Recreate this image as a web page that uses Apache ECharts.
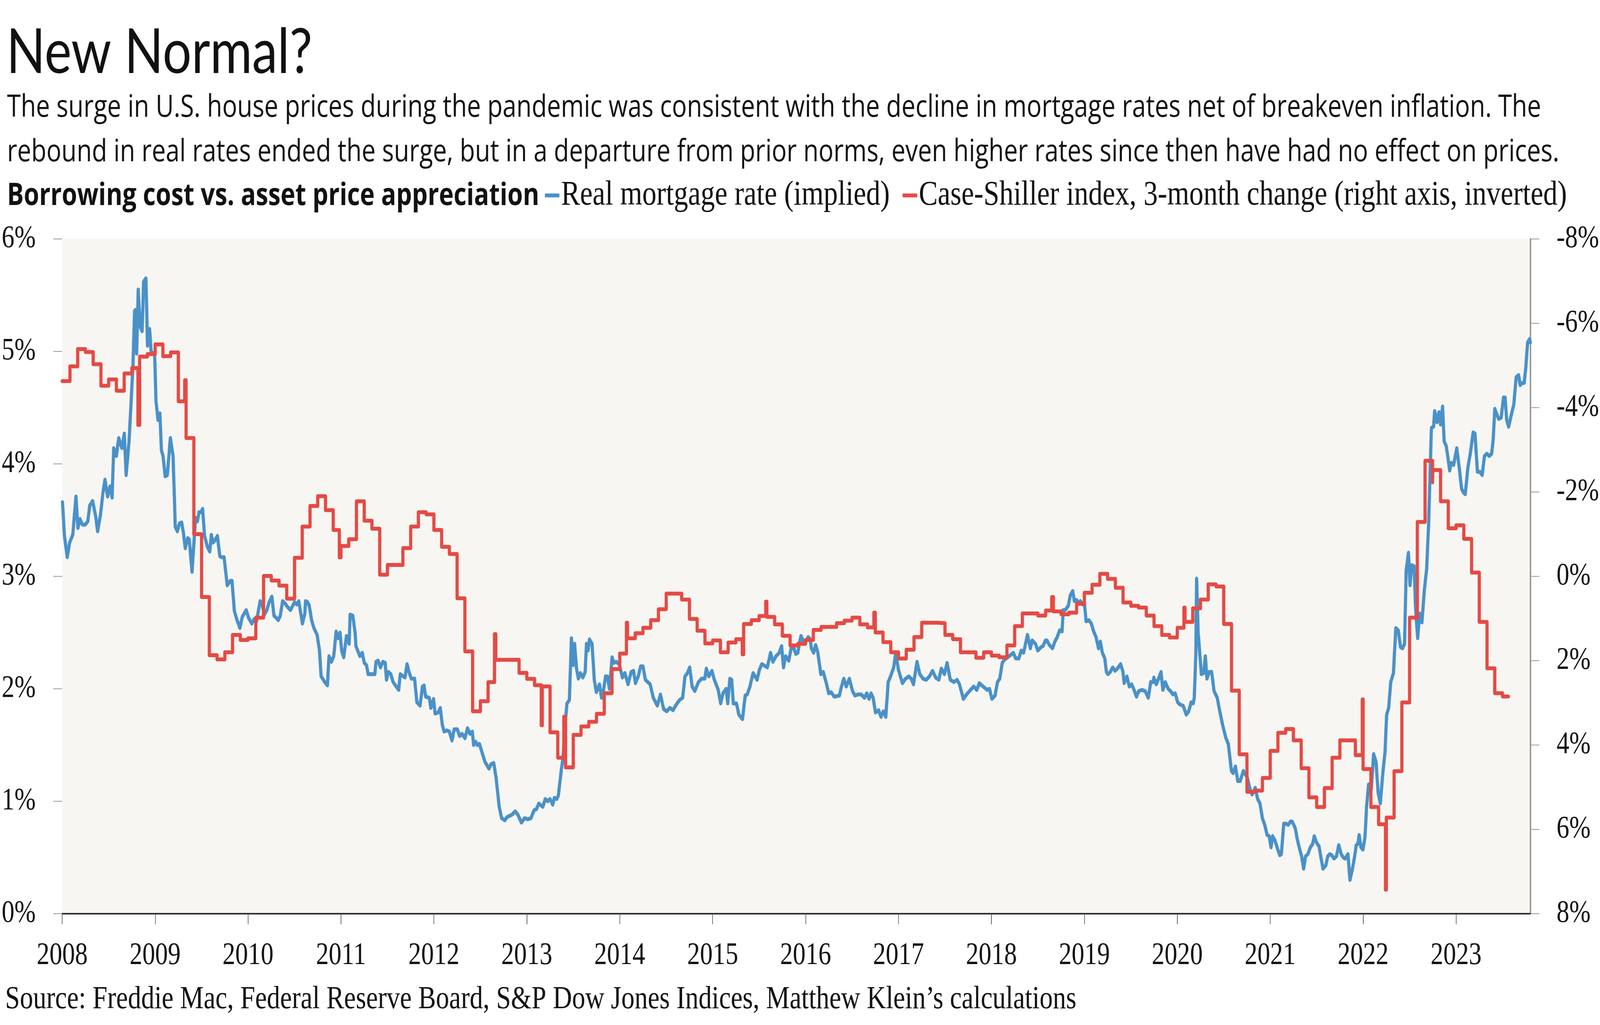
<!DOCTYPE html>
<html>
<head>
<meta charset="utf-8">
<script src="https://cdn.jsdelivr.net/npm/echarts@6/dist/echarts.min.js"></script>
<style>
html,body{margin:0;padding:0;background:#fff;overflow:hidden;}
#wrap{width:5016px;height:2625px;transform-origin:0 0;}
#chart{width:5016px;height:2625px;}
</style>
</head>
<body>
<div id="wrap"><div id="chart"></div></div>
<script>
// ---- Text ----
const titleText = 'New Normal?';
const subtitleLines = [
  'The surge in U.S. house prices during the pandemic was consistent with the decline in mortgage rates net of breakeven inflation. The',
  'rebound in real rates ended the surge, but in a departure from prior norms, even higher rates since then have had no effect on prices.'
];
const legendTitle = 'Borrowing cost vs. asset price appreciation';
const seriesNames = ['Real mortgage rate (implied)', 'Case-Shiller index, 3-month change (right axis, inverted)'];
const sourceText = 'Source: Freddie Mac, Federal Reserve Board, S&P Dow Jones Indices, Matthew Klein\u2019s calculations';

// ---- Axes ----
const xStartYear = 2008;
const xEndYear = 2023.8;
const leftTicks = [0, 1, 2, 3, 4, 5, 6];      // %
const rightTicks = [-8, -6, -4, -2, 0, 2, 4, 6, 8]; // %, inverted

// ---- Real mortgage rate (implied), weekly-ish readings [decimal year, %] ----
const realRate = [
[2008.003,3.66],[2008.024,3.36],[2008.054,3.17],[2008.080,3.30],[2008.114,3.37],[2008.148,3.71],[2008.169,3.43],[2008.191,3.51],
[2008.216,3.46],[2008.250,3.46],[2008.276,3.49],[2008.296,3.63],[2008.327,3.67],[2008.361,3.53],[2008.381,3.40],[2008.412,3.55],
[2008.438,3.74],[2008.460,3.86],[2008.489,3.71],[2008.514,3.80],[2008.537,3.70],[2008.554,4.14],[2008.583,4.07],[2008.608,4.23],
[2008.642,4.14],[2008.668,4.27],[2008.688,3.90],[2008.719,4.20],[2008.739,4.51],[2008.762,4.89],[2008.779,5.36],[2008.790,5.37],
[2008.801,4.98],[2008.818,5.55],[2008.838,5.22],[2008.860,5.18],[2008.876,5.62],[2008.901,5.65],[2008.918,5.05],[2008.929,5.08],
[2008.940,5.20],[2008.957,5.00],[2008.995,4.97],[2009.009,4.56],[2009.031,4.39],[2009.051,4.45],[2009.068,4.12],[2009.085,4.07],
[2009.108,3.89],[2009.131,3.90],[2009.164,4.23],[2009.193,4.07],[2009.217,3.44],[2009.239,3.40],[2009.261,3.47],[2009.285,3.48],
[2009.304,3.39],[2009.324,3.25],[2009.350,3.34],[2009.367,3.33],[2009.397,3.04],[2009.435,3.52],[2009.455,3.49],[2009.472,3.57],
[2009.494,3.57],[2009.511,3.60],[2009.532,3.36],[2009.563,3.26],[2009.588,3.22],[2009.605,3.37],[2009.622,3.30],[2009.643,3.32],
[2009.670,3.36],[2009.696,3.18],[2009.716,3.17],[2009.742,3.17],[2009.776,2.92],[2009.810,2.96],[2009.827,2.96],[2009.853,2.69],
[2009.878,2.62],[2009.912,2.54],[2009.938,2.64],[2009.980,2.70],[2010.006,2.63],[2010.040,2.58],[2010.065,2.62],[2010.091,2.60],
[2010.130,2.78],[2010.151,2.75],[2010.176,2.66],[2010.202,2.70],[2010.227,2.77],[2010.256,2.82],[2010.279,2.65],[2010.304,2.63],
[2010.325,2.61],[2010.347,2.65],[2010.372,2.78],[2010.398,2.76],[2010.423,2.73],[2010.457,2.70],[2010.500,2.77],[2010.526,2.75],
[2010.546,2.78],[2010.585,2.58],[2010.611,2.67],[2010.619,2.78],
[2010.641,2.77],[2010.658,2.74],[2010.684,2.61],[2010.709,2.54],[2010.743,2.48],[2010.769,2.34],[2010.786,2.11],[2010.803,2.09],
[2010.825,2.06],[2010.854,2.03],[2010.871,2.29],[2010.897,2.24],[2010.922,2.29],[2010.948,2.51],[2010.968,2.45],[2010.990,2.50],
[2011.007,2.34],[2011.030,2.28],[2011.059,2.47],[2011.088,2.40],[2011.098,2.66],[2011.127,2.65],[2011.152,2.50],[2011.161,2.38],
[2011.203,2.29],[2011.229,2.32],[2011.251,2.23],[2011.275,2.21],[2011.292,2.13],[2011.340,2.13],[2011.365,2.13],[2011.377,2.24],
[2011.400,2.25],[2011.425,2.19],[2011.451,2.24],[2011.476,2.23],[2011.490,2.08],[2011.510,2.15],[2011.536,2.13],[2011.561,2.06],
[2011.595,2.02],[2011.621,1.99],[2011.638,2.13],[2011.689,2.10],[2011.711,2.22],[2011.732,2.15],[2011.757,2.09],[2011.792,2.09],
[2011.817,1.88],[2011.851,1.85],[2011.877,2.02],[2011.894,2.03],[2011.911,1.93],[2011.950,1.92],[2011.967,1.83],[2011.996,1.91],
[2012.013,1.78],[2012.047,1.79],[2012.069,1.83],[2012.090,1.68],[2012.110,1.62],[2012.141,1.63],[2012.166,1.62],[2012.195,1.54],
[2012.218,1.64],[2012.252,1.64],[2012.277,1.58],[2012.303,1.60],[2012.334,1.56],[2012.362,1.65],[2012.388,1.60],[2012.414,1.62],
[2012.427,1.50],[2012.448,1.53],[2012.468,1.50],[2012.490,1.51],[2012.516,1.44],[2012.550,1.35],[2012.593,1.29],[2012.615,1.33],
[2012.644,1.34],[2012.669,1.21],[2012.703,0.95],[2012.729,0.85],[2012.763,0.83],[2012.789,0.86],[2012.814,0.87],[2012.840,0.88],
[2012.874,0.91],[2012.904,0.88],[2012.942,0.81],[2012.976,0.85],[2013.010,0.84],[2013.044,0.85],[2013.078,0.92],[2013.104,0.93],
[2013.129,0.98],[2013.172,0.95],[2013.198,1.02],[2013.223,1.00],[2013.249,1.02],
[2013.279,0.97],[2013.296,1.03],[2013.322,1.02],[2013.339,1.05],[2013.356,1.17],[2013.373,1.29],[2013.390,1.39],[2013.407,1.64],
[2013.432,1.87],[2013.458,1.90],[2013.480,2.45],[2013.497,2.21],[2013.514,2.40],[2013.535,2.18],[2013.555,2.09],[2013.577,2.14],
[2013.603,2.10],[2013.628,2.15],[2013.642,2.40],[2013.659,2.34],[2013.674,2.44],[2013.702,2.40],[2013.726,2.08],[2013.748,1.97],
[2013.782,2.04],[2013.804,1.92],[2013.824,1.98],[2013.847,2.11],[2013.867,2.11],[2013.889,2.00],[2013.918,2.28],[2013.935,2.23],
[2013.961,2.24],[2013.995,2.22],[2014.029,2.10],[2014.055,2.14],[2014.089,2.04],[2014.123,2.15],[2014.148,2.16],[2014.169,2.05],
[2014.199,2.11],[2014.225,2.20],[2014.250,2.20],[2014.276,2.08],[2014.302,2.06],[2014.327,2.04],[2014.361,1.92],[2014.404,1.85],
[2014.438,1.95],[2014.472,1.82],[2014.506,1.80],[2014.540,1.83],[2014.574,1.81],[2014.608,1.86],[2014.643,1.90],[2014.677,1.92],
[2014.702,2.11],[2014.728,2.14],[2014.753,2.19],[2014.779,2.02],[2014.808,1.98],[2014.847,2.06],[2014.881,2.09],[2014.915,2.09],
[2014.932,2.18],[2014.958,2.11],[2014.992,2.16],[2015.018,2.08],[2015.060,1.99],[2015.086,1.87],[2015.111,1.96],[2015.145,2.00],
[2015.162,1.87],[2015.185,2.09],[2015.205,2.08],[2015.222,1.87],[2015.256,1.87],[2015.282,1.77],[2015.321,1.73],[2015.350,1.94],
[2015.372,1.95],[2015.401,2.02],[2015.435,2.14],[2015.478,2.08],[2015.503,2.17],[2015.529,2.22],[2015.588,2.19],[2015.623,2.32],
[2015.648,2.24],[2015.682,2.29],[2015.716,2.32],[2015.742,2.38],[2015.762,2.19],[2015.785,2.29],[2015.819,2.25],[2015.849,2.38],
[2015.870,2.37],[2015.895,2.31],
[2015.917,2.32],[2015.934,2.41],[2015.951,2.47],[2015.977,2.42],[2016.002,2.42],[2016.028,2.46],[2016.050,2.44],[2016.062,2.36],
[2016.087,2.32],[2016.108,2.39],[2016.130,2.33],[2016.164,2.13],[2016.190,2.15],[2016.220,2.06],[2016.249,1.96],[2016.275,1.97],
[2016.309,1.93],[2016.364,1.94],[2016.386,2.02],[2016.411,2.09],[2016.437,2.02],[2016.471,2.09],[2016.505,1.98],[2016.531,1.94],
[2016.565,1.95],[2016.599,1.95],[2016.633,1.92],[2016.658,1.96],[2016.684,1.91],[2016.704,1.96],[2016.727,1.92],[2016.752,1.79],
[2016.786,1.81],[2016.812,1.75],[2016.837,1.80],[2016.863,1.75],[2016.889,2.06],[2016.914,2.11],[2016.948,2.19],[2016.970,2.32],
[2016.999,2.17],[2017.042,2.05],[2017.076,2.09],[2017.110,2.11],[2017.136,2.09],[2017.161,2.04],[2017.199,2.24],[2017.229,2.13],
[2017.264,2.09],[2017.298,2.08],[2017.332,2.11],[2017.366,2.16],[2017.400,2.10],[2017.434,2.08],[2017.460,2.18],[2017.494,2.13],
[2017.523,2.23],[2017.557,2.08],[2017.596,2.06],[2017.630,2.08],[2017.656,2.04],[2017.698,1.91],[2017.732,1.95],[2017.775,1.99],
[2017.809,2.02],[2017.843,1.99],[2017.869,2.05],[2017.911,2.02],[2017.954,1.99],[2017.979,2.00],[2018.005,1.91],[2018.039,1.94],
[2018.065,2.06],[2018.090,2.09],[2018.116,2.23],[2018.141,2.26],[2018.175,2.28],[2018.235,2.32],[2018.261,2.27],[2018.295,2.27],
[2018.320,2.34],[2018.346,2.32],[2018.388,2.48],[2018.419,2.36],[2018.439,2.43],[2018.474,2.40],[2018.499,2.34],[2018.533,2.37],
[2018.555,2.38],[2018.581,2.43],[2018.598,2.43],[2018.623,2.39],[2018.657,2.36],[2018.683,2.42],[2018.708,2.46],[2018.734,2.52],
[2018.760,2.51],[2018.773,2.70],[2018.794,2.70],[2018.811,2.72],[2018.828,2.74],[2018.848,2.83],[2018.875,2.87],[2018.892,2.78],
[2018.916,2.79],[2018.938,2.76],[2018.956,2.78],[2018.981,2.75],[2019.002,2.75],[2019.019,2.60],[2019.049,2.61],[2019.075,2.58],
[2019.100,2.51],[2019.126,2.46],[2019.152,2.36],[2019.172,2.42],[2019.194,2.32],[2019.220,2.27],[2019.237,2.15],[2019.254,2.13],
[2019.279,2.15],[2019.305,2.19],[2019.331,2.16],[2019.356,2.18],[2019.390,2.22],[2019.416,2.15],[2019.428,2.05],[2019.458,2.11],
[2019.484,2.02],[2019.509,2.04],[2019.535,1.99],[2019.561,1.93],[2019.586,1.98],[2019.620,1.99],[2019.654,1.98],[2019.688,1.92],
[2019.714,2.06],[2019.740,2.06],[2019.748,2.10],[2019.774,2.04],[2019.799,2.09],[2019.825,2.15],[2019.845,1.99],[2019.871,2.06],
[2019.902,2.00],[2019.927,1.98],[2019.953,1.95],[2019.978,1.96],[2020.004,1.88],[2020.029,1.86],[2020.063,1.85],[2020.097,1.77],
[2020.123,1.80],[2020.149,1.88],[2020.171,1.87],[2020.183,1.92],[2020.200,2.32],[2020.208,2.98],[2020.225,2.50],[2020.259,2.13],
[2020.285,2.14],[2020.302,2.29],[2020.319,2.09],[2020.345,2.15],[2020.370,2.15],[2020.396,1.98],[2020.430,1.92],[2020.455,1.81],
[2020.490,1.67],[2020.524,1.56],[2020.549,1.51],[2020.583,1.27],[2020.600,1.25],[2020.626,1.31],[2020.651,1.18],[2020.677,1.18],
[2020.711,1.27],[2020.754,1.21],[2020.779,1.12],[2020.805,1.06],[2020.839,1.12],[2020.865,1.02],[2020.890,0.98],[2020.916,0.85],
[2020.941,0.79],[2020.967,0.70],[2020.989,0.69],[2021.009,0.59],[2021.026,0.69],[2021.052,0.65],[2021.078,0.58],[2021.103,0.52],
[2021.120,0.53],[2021.146,0.80],[2021.171,0.80],
[2021.193,0.79],[2021.219,0.82],[2021.236,0.82],[2021.270,0.76],[2021.287,0.68],[2021.312,0.59],[2021.338,0.51],[2021.360,0.40],
[2021.380,0.51],[2021.406,0.53],[2021.432,0.59],[2021.457,0.62],[2021.474,0.69],[2021.500,0.63],[2021.525,0.60],[2021.542,0.52],
[2021.568,0.40],[2021.599,0.43],[2021.619,0.51],[2021.640,0.53],[2021.662,0.52],[2021.687,0.49],[2021.713,0.51],[2021.738,0.61],
[2021.764,0.53],[2021.786,0.50],[2021.807,0.49],[2021.837,0.53],[2021.858,0.30],[2021.883,0.39],[2021.909,0.51],[2021.926,0.61],
[2021.943,0.62],[2021.957,0.70],[2021.977,0.59],[2021.998,0.57],[2022.020,0.68],[2022.037,0.95],[2022.059,1.15],[2022.088,1.11],
[2022.113,1.42],[2022.139,1.35],[2022.161,1.08],[2022.185,0.98],[2022.212,1.25],[2022.236,1.44],[2022.253,1.77],[2022.275,1.83],
[2022.297,2.06],[2022.326,2.14],[2022.352,2.54],[2022.378,2.52],[2022.403,2.37],[2022.424,2.36],[2022.446,2.40],[2022.463,3.05],
[2022.488,3.21],[2022.505,2.92],[2022.522,3.10],[2022.548,3.09],[2022.565,2.71],[2022.587,2.45],[2022.608,2.67],[2022.633,2.59],
[2022.659,2.88],[2022.684,3.07],[2022.706,3.49],[2022.718,3.84],[2022.735,4.32],[2022.758,4.33],[2022.770,4.47],[2022.795,4.37],
[2022.816,4.46],[2022.833,4.35],[2022.855,4.51],[2022.872,4.20],[2022.894,4.16],[2022.914,4.05],[2022.931,3.94],[2022.949,4.01],
[2022.974,3.99],[2023.008,4.14],[2023.034,3.97],[2023.059,3.78],[2023.076,3.75],[2023.099,3.73],[2023.128,3.97],[2023.153,4.09],
[2023.184,4.28],[2023.204,4.27],[2023.230,3.93],[2023.255,3.93],[2023.281,3.90],[2023.306,4.07],[2023.332,4.09],[2023.358,4.07],
[2023.383,4.09],[2023.400,4.22],[2023.417,4.49],[2023.434,4.45],[2023.460,4.40],[2023.485,4.41],[2023.511,4.59],[2023.528,4.59],
[2023.545,4.39],[2023.566,4.33],[2023.593,4.43],[2023.622,4.53],[2023.647,4.77],[2023.673,4.79],[2023.690,4.70],[2023.712,4.72],
[2023.733,4.72],[2023.750,4.85],[2023.770,5.08],[2023.792,5.11],[2023.800,5.08]
];

// ---- Case-Shiller index, 3-month change (%), monthly from Jan 2008 ----
const caseShiller = [
-4.63,-4.98,-5.39,-5.32,-5.03,-4.52,-4.67,-4.40,-4.81,-4.94,-5.21,-5.27,   // 2008
-5.50,-5.22,-5.31,-4.15,-3.28,-1.00, 0.49, 1.87, 1.97, 1.80, 1.39, 1.51,   // 2009
 1.47, 0.98,-0.01, 0.10, 0.22, 0.53,-0.44,-1.18,-1.67,-1.90,-1.57,-1.10,   // 2010
-0.72,-0.88,-1.78,-1.32,-1.13,-0.04,-0.27,-0.27,-0.67,-1.18,-1.52,-1.47,   // 2011
-1.10,-0.70,-0.53, 0.52, 1.78, 3.20, 2.96, 2.51, 1.98, 1.98, 1.98, 2.29,   // 2012
 2.43, 2.58, 2.61, 3.70, 4.30, 4.53, 3.76, 3.56, 3.45, 3.26, 2.77, 2.20,   // 2013
 1.83, 1.47, 1.35, 1.22, 1.04, 0.78, 0.41, 0.41, 0.55, 1.01, 1.29, 1.59,   // 2014
 1.52, 1.80, 1.57, 1.49, 1.13, 1.04, 0.94, 0.96, 1.14, 1.41, 1.64, 1.60,   // 2015
 1.51, 1.27, 1.20, 1.20, 1.11, 1.05, 0.98, 1.14, 1.21, 1.33, 1.56, 1.80,   // 2016
 1.95, 1.74, 1.44, 1.10, 1.10, 1.11, 1.39, 1.49, 1.80, 1.80, 1.93, 1.80,   // 2017
 1.88, 1.92, 1.64, 1.18, 0.88, 0.88, 0.93, 0.81, 0.83, 0.90, 0.86, 0.65,   // 2018
 0.39, 0.20,-0.06, 0.06, 0.27, 0.62, 0.70, 0.74, 0.93, 1.18, 1.39, 1.45,   // 2019
 1.22, 1.08, 0.76, 0.55, 0.19, 0.24, 1.13, 2.71, 4.22, 5.11, 5.08, 4.78,   // 2020
 4.14, 3.71, 3.62, 3.89, 4.55, 5.24, 5.47, 5.02, 4.30, 3.89, 3.89, 4.24,   // 2021
 4.57, 5.47, 5.88, 5.72, 4.62, 2.99, 0.98,-1.29,-2.74,-2.52,-1.78,-1.14,   // 2022
-1.21,-0.89,-0.09, 1.08, 2.18, 2.77, 2.85                                   // 2023
];
// Short one-week readings that break away from the monthly level [decimal year, %]
const caseShillerSpikes = [
[2008.815,-3.59],[2009.318,-4.65],[2010.982,-0.45],[2012.652,1.37],[2013.155,3.53],[2013.398,3.33],
[2014.072,1.10],[2015.319,1.85],[2015.571,0.60],[2016.735,0.86],[2018.649,0.49],[2020.072,0.74],
[2021.991,2.92],[2022.241,7.43],[2022.747,-2.23]
];

// ---- Colors ----
const blue = '#4a91c8';
const red = '#e54a44';
const ink = '#111111';
const plotBg = '#f7f6f2';

function buildRed() {
  const n = caseShiller.length;
  const pts = caseShiller.map((v, i) => [xStartYear + i / 12, v]);
  caseShillerSpikes.forEach(([t, s]) => {
    const r = t + 0.02;
    const mi = Math.min(n - 1, Math.floor((r - xStartYear) * 12 + 1e-9));
    pts.push([t, s]);
    pts.push([r, caseShiller[mi]]);
  });
  pts.sort((a, b) => a[0] - b[0]);
  pts.push([xStartYear + n / 12 - 0.02, caseShiller[n - 1]]);
  return pts;
}

// The browser window may be narrower than the 5016px design; fit the design to it.
const W = 5016, H = 2625;
const sx = Math.min(1, window.innerWidth / W);
const sy = Math.min(1, window.innerHeight / H);
document.getElementById('wrap').style.transform = 'scale(' + sx + ',' + sy + ')';

const serif = 'Liberation Serif';
const sans = 'Open Sans';

const chart = echarts.init(document.getElementById('chart'), null, {renderer: 'canvas', width: W, height: H});
chart.setOption({
  animation: false,
  backgroundColor: '#ffffff',
  title: [
    {text: titleText, left: 20, top: 55, padding: 0,
     textStyle: {fontFamily: 'Lato', fontWeight: 'normal', fontSize: 160, lineHeight: 160, color: ink}},
    {text: subtitleLines.join('\n'), left: 22, top: 220, padding: 0,
     textStyle: {fontFamily: sans, fontWeight: 'normal', fontSize: 78, lineHeight: 114, color: ink}},
    {text: legendTitle, left: 22, top: 464, padding: 0,
     textStyle: {fontFamily: sans, fontWeight: 'bold', fontSize: 78, lineHeight: 78, color: ink}},
    {text: sourceText, left: 16, top: 2519, padding: 0,
     textStyle: {fontFamily: serif, fontWeight: 'normal', fontSize: 83, lineHeight: 83, color: ink}}
  ],
  legend: {
    left: 1708, top: 456, padding: 0, itemGap: 40,
    itemWidth: 46, itemHeight: 10, icon: 'roundRect',
    selectedMode: false,
    textStyle: {fontFamily: serif, fontSize: 89, lineHeight: 88, color: ink},
    data: seriesNames
  },
  grid: {left: 195, right: 210, top: 612, bottom: 285, show: true, backgroundColor: plotBg, borderWidth: 0},
  xAxis: {
    type: 'value', min: xStartYear, max: xEndYear, interval: 1,
    axisLine: {show: true, onZero: false, lineStyle: {color: '#2e2e2e', width: 4}},
    axisTick: {show: true, length: 27, lineStyle: {color: '#555', width: 2}},
    axisLabel: {showMaxLabel: false, margin: 68, fontFamily: serif, fontSize: 80, color: ink,
                formatter: v => String(Math.round(v))},
    splitLine: {show: false}
  },
  yAxis: [
    {
      type: 'value', position: 'left', min: leftTicks[0], max: leftTicks[leftTicks.length - 1], interval: 1,
      axisLine: {show: false},
      axisTick: {show: true, length: 28, lineStyle: {color: '#999', width: 2}},
      axisLabel: {margin: 83, fontFamily: serif, fontSize: 80, color: ink, formatter: v => v + '%'},
      splitLine: {show: false}
    },
    {
      type: 'value', position: 'right', inverse: true,
      min: rightTicks[0], max: rightTicks[rightTicks.length - 1], interval: 2,
      axisLine: {show: true, lineStyle: {color: '#8c8c8c', width: 4}},
      axisTick: {show: true, length: 28, lineStyle: {color: '#999', width: 2}},
      axisLabel: {margin: 82, fontFamily: serif, fontSize: 80, color: ink, formatter: v => v + '%'},
      splitLine: {show: false}
    }
  ],
  series: [
    {
      name: seriesNames[0], type: 'line', yAxisIndex: 0, data: realRate,
      showSymbol: false, symbol: 'none', color: blue,
      lineStyle: {color: blue, width: 10, cap: 'round', join: 'round'}
    },
    {
      name: seriesNames[1], type: 'line', yAxisIndex: 1, data: buildRed(), step: 'end',
      showSymbol: false, symbol: 'none', color: red,
      lineStyle: {color: red, width: 10, cap: 'round', join: 'round'}
    }
  ]
});
</script>
</body>
</html>
